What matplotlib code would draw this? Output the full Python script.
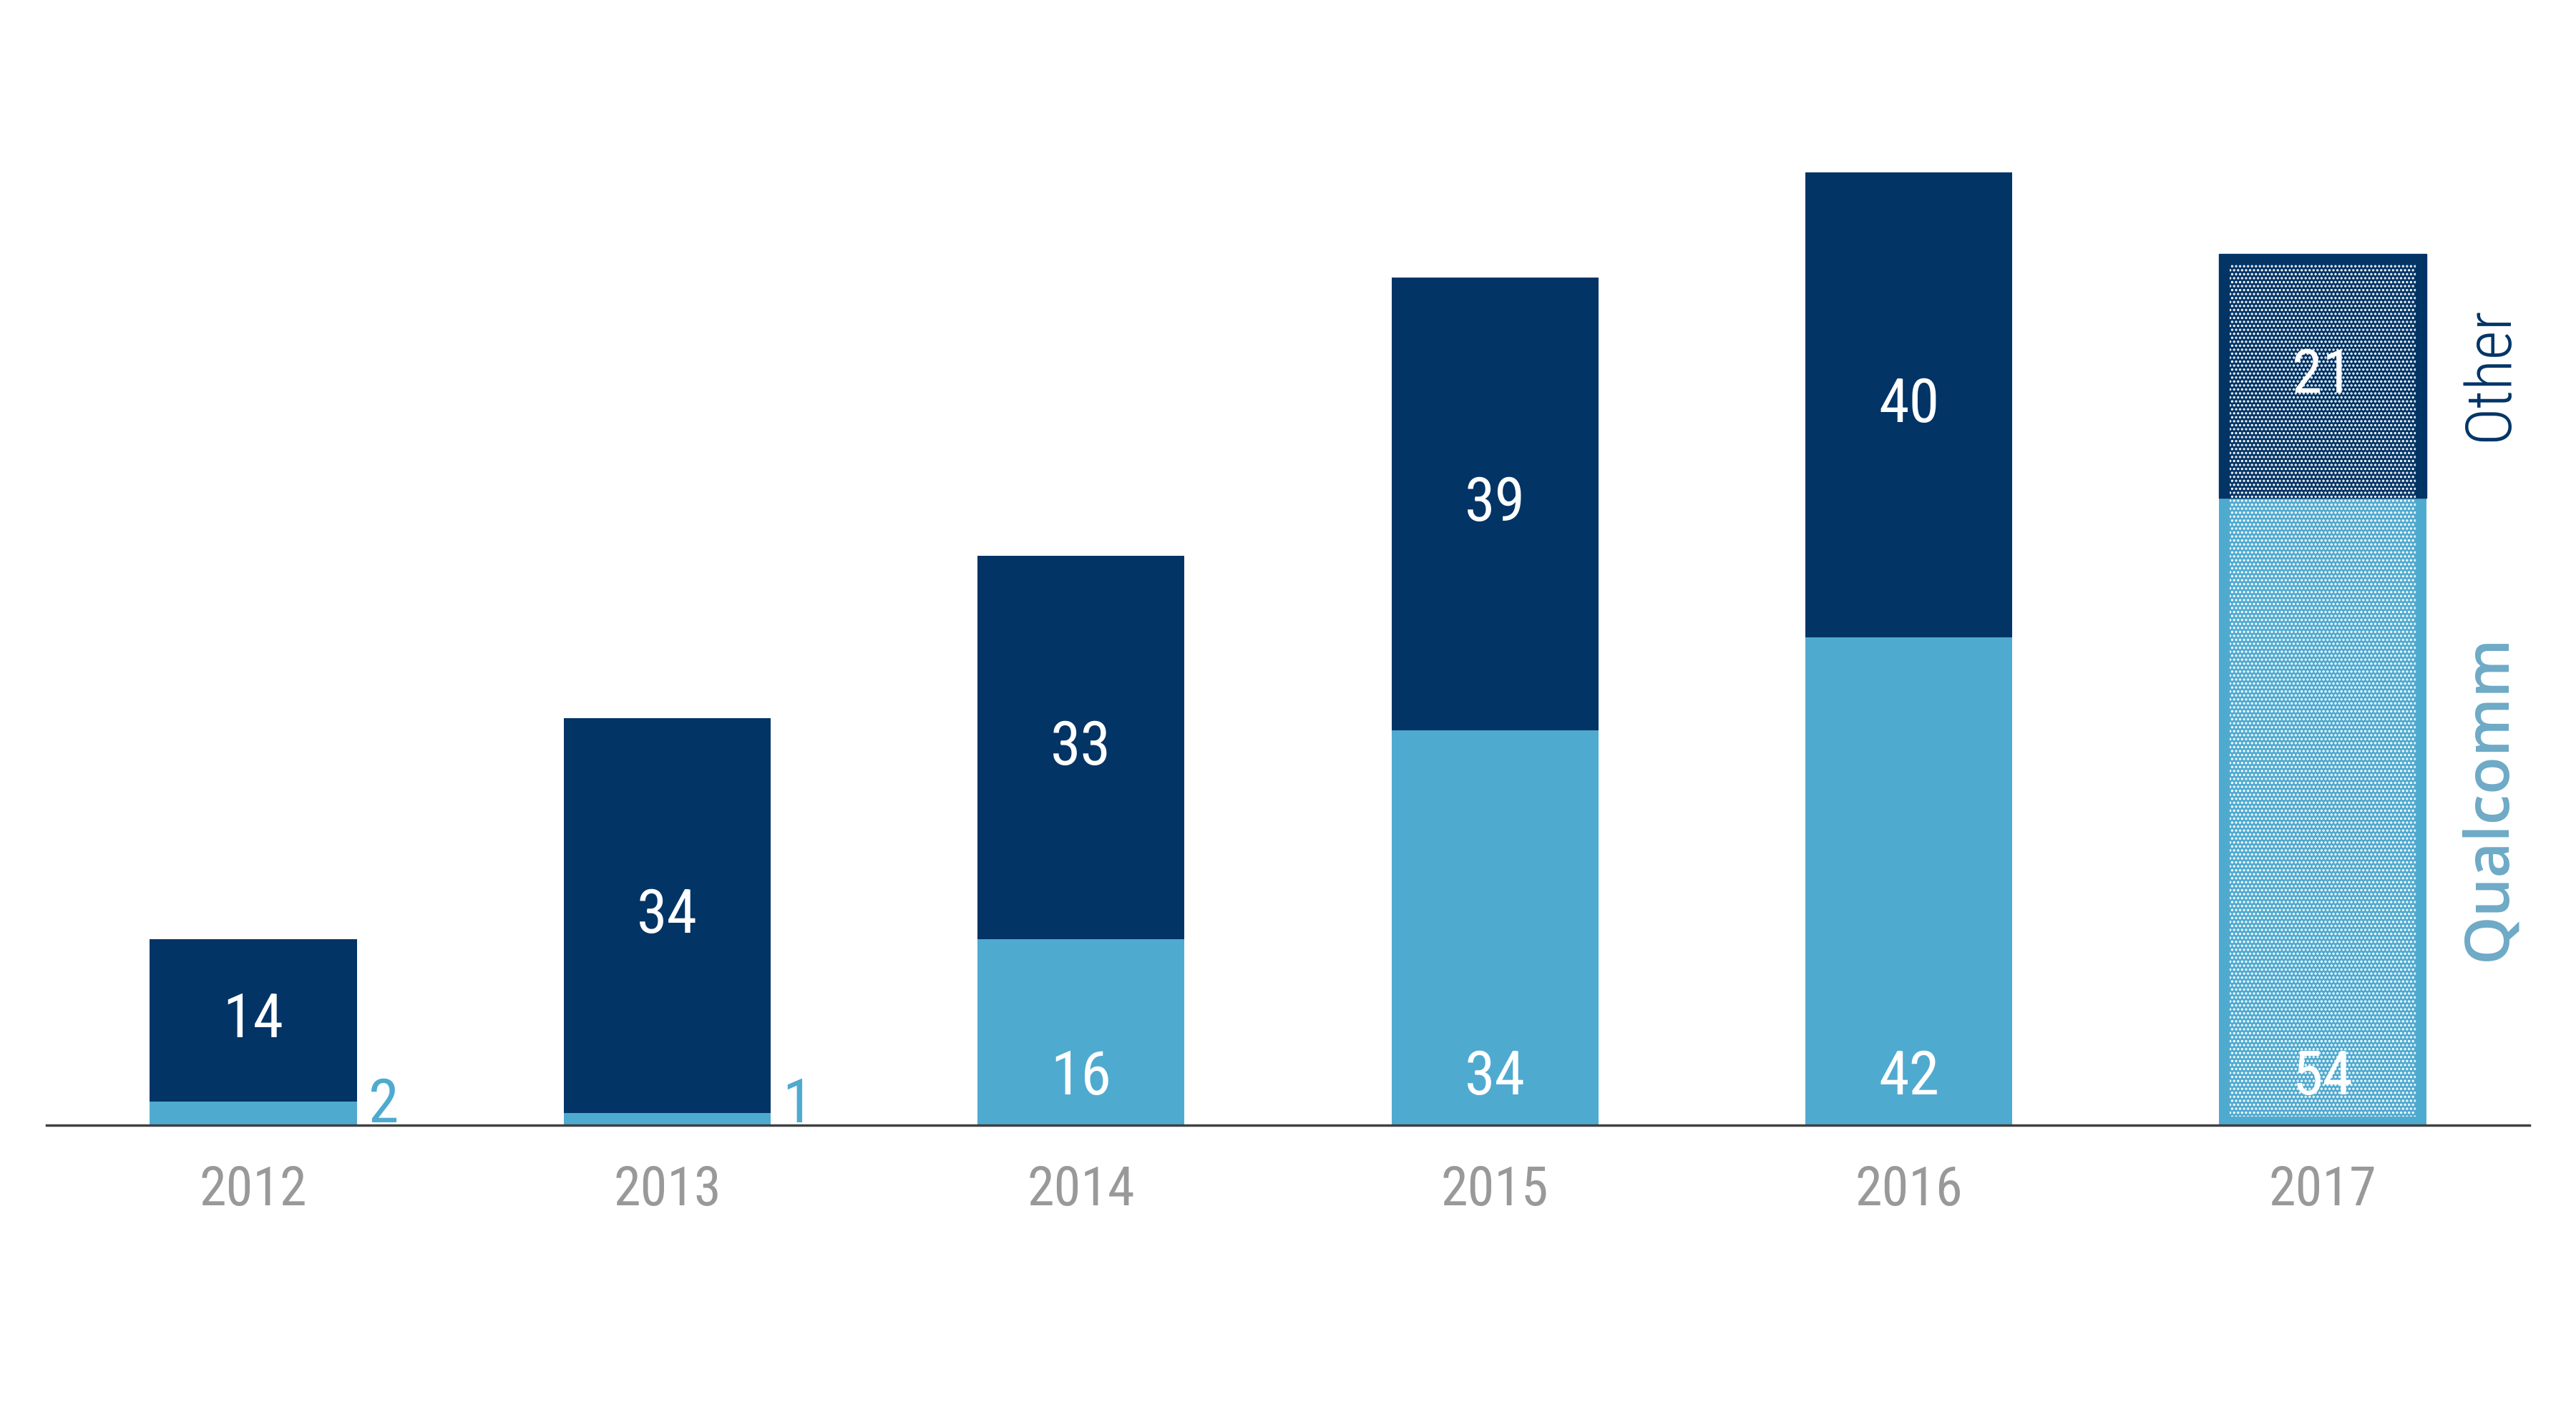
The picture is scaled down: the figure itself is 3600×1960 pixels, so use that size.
import matplotlib.pyplot as plt
import numpy as np

# données
years = ['2012', '2013', '2014', '2015', '2016', '2017']
qualcomm = [2, 1, 16, 34, 42, 54]
other = [14, 34, 33, 39, 40, 21]

dark = '#023466'
light = '#4faad0'
logo_blue = '#6eaac6'
narrow = ['Roboto Condensed', 'Liberation Sans Narrow', 'DejaVu Sans']

plt.rcParams['hatch.linewidth'] = 1.6

fig = plt.figure(figsize=(36, 19.6), dpi=100)
ax = fig.add_axes([0.018, 0.1976, 0.964, 0.7455])

x = np.arange(len(years))
w = 0.5
q = np.array(qualcomm)
o = np.array(other)

ax.bar(x[:-1], q[:-1], width=w, color=light, linewidth=0)
ax.bar(x[:-1], o[:-1], width=w, bottom=q[:-1], color=dark, linewidth=0)

# 2017 : barre en motif pointillé
ax.bar(x[-1], q[-1], width=w, color=light, linewidth=0)
ax.bar(x[-1], o[-1], width=w, bottom=q[-1], color=dark,
       edgecolor=dark, linewidth=1, joinstyle='round')
ax.bar(x[-1], q[-1] + o[-1] - 1.6, width=w - 0.05, bottom=0.7,
       facecolor='none', edgecolor='white', linewidth=0, hatch='...')

# étiquettes des valeurs
for i in range(len(years)):
    ax.text(x[i], q[i] + o[i] / 2, str(o[i]), color='white', fontsize=62,
            ha='center', va='center', family=narrow, stretch='condensed')
    if q[i] >= 10:
        ax.text(x[i], 4.1, str(q[i]), color='white', fontsize=62,
                ha='center', va='center', family=narrow, stretch='condensed')
    else:
        ax.text(x[i] + w / 2 + 0.028, 0.25, str(q[i]), color=light,
                fontsize=62, ha='left', va='baseline', family=narrow,
                stretch='condensed')

# légende sur le côté
ax.text(5.33, 64.7, 'Other', rotation=90, color=dark, fontsize=64,
        ha='left', va='center', family=narrow, stretch='condensed',
        weight='light')
ax.text(5.33, 28.2, 'Qualcomm', rotation=90, color=logo_blue, fontsize=62,
        ha='left', va='center', family=['Open Sans', 'DejaVu Sans'],
        weight='semibold')

ax.set_xlim(-0.5, 5.5)
ax.set_ylim(0, 90)
ax.set_xticks(x)
ax.set_xticklabels(years, fontsize=55, color='#999999', family=narrow,
                   stretch='condensed')
ax.tick_params(axis='x', length=0, pad=40)
ax.set_yticks([])
for s in ['top', 'right', 'left']:
    ax.spines[s].set_visible(False)
ax.spines['bottom'].set_color('#404040')
ax.spines['bottom'].set_linewidth(2.5)
ax.spines['bottom'].set_zorder(5)

fig.savefig('out.png', dpi=100)
